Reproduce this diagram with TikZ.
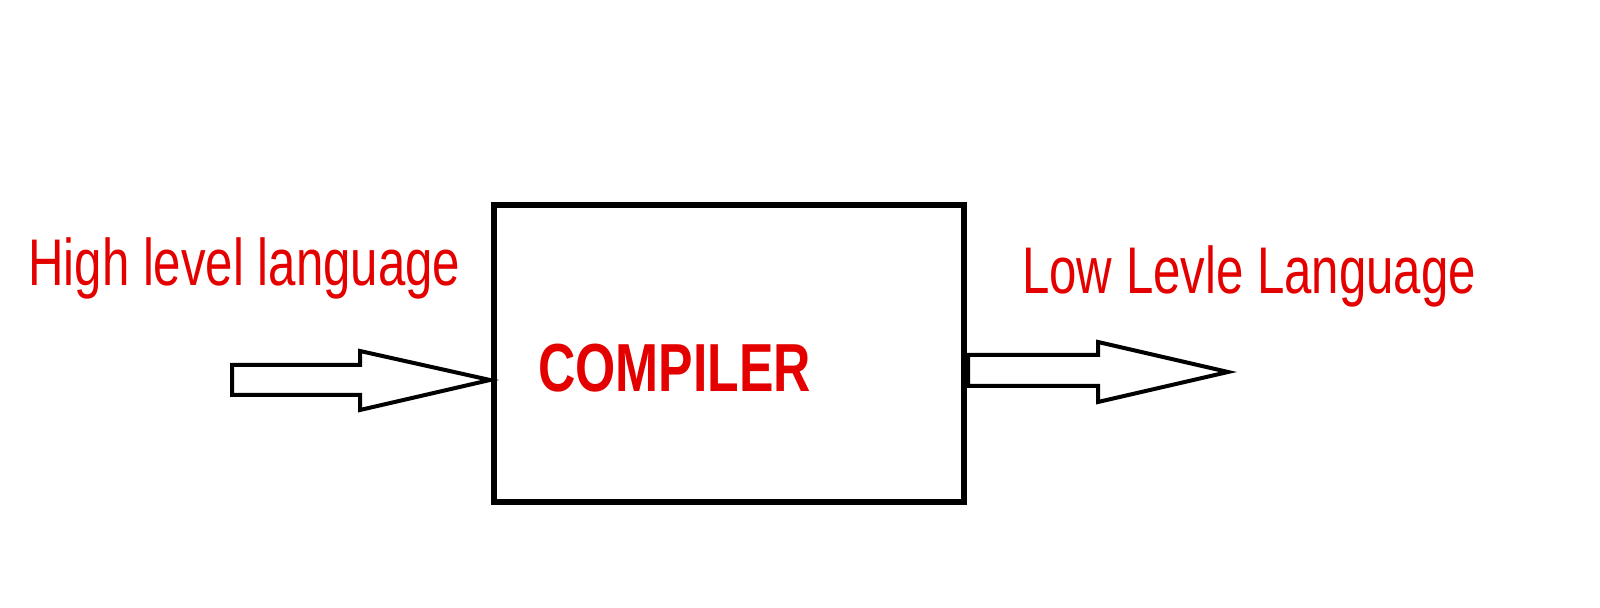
\documentclass[tikz,border=0pt]{standalone}
\usepackage{fontspec}
\setmainfont{Liberation Sans}
\begin{document}
\begin{tikzpicture}[x=0.5pt,y=-0.5pt,
  lbl/.style={text=red!90!black,font=\fontsize{33}{36}\selectfont,inner sep=0pt},
  fat/.style={draw=black,line width=2pt,line join=miter}]
\useasboundingbox (0,0) rectangle (1600,608);
\node[draw=black,line width=2.6pt,minimum width=235pt,minimum height=148.5pt,inner sep=0pt] (box) at (729,353.5) {};
\node[lbl,font=\fontsize{34}{36}\selectfont\bfseries,anchor=west,xscale=0.76] (comp) at (538,368) {COMPILER};
\node[lbl,anchor=west,xscale=0.745] (hll) at (28,268) {High level language};
\node[lbl,anchor=west,xscale=0.745] (lll) at (1022,276) {Low Levle Language};
\draw[fat] (232,365) -- (360,365) -- (360,351) -- (490,380) -- (360,410) -- (360,395) -- (232,395) -- cycle;
\draw[fat] (968,355) -- (1098,355) -- (1098,342) -- (1228,372) -- (1098,402) -- (1098,386) -- (968,386) -- cycle;
\end{tikzpicture}
\end{document}
